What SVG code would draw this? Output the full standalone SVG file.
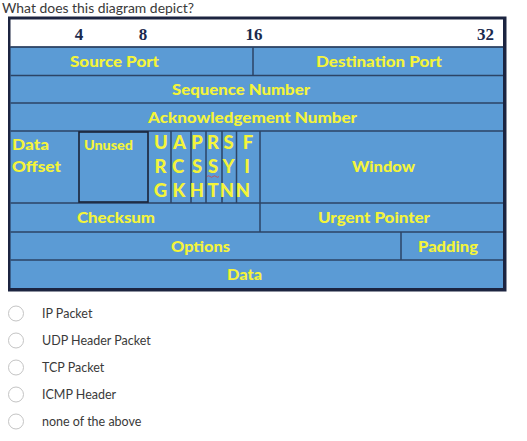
<svg xmlns="http://www.w3.org/2000/svg" width="527" height="441" viewBox="0 0 527 441">
<style>
.q{font-family:Lato,"Open Sans","Liberation Sans",sans-serif;font-size:12.5px;fill:#3a3a3a}
.num{font-family:"Liberation Serif","Times New Roman",serif;font-weight:bold;font-size:17px;fill:#1b2a4e;text-anchor:middle}
.lbl{font-family:Lato,"Open Sans","Liberation Sans",sans-serif;font-weight:900;font-size:15.5px;fill:#f4f43a;text-anchor:middle}
.lft{font-family:Lato,"Open Sans","Liberation Sans",sans-serif;font-weight:900;font-size:15px;fill:#f4f43a}
.flag{font-family:Lato,"Open Sans","Liberation Sans",sans-serif;font-weight:900;font-size:18.5px;fill:#f4f43a;text-anchor:middle}
.ln{stroke:#2c4466;stroke-width:1.5;fill:none}
.cell{fill:#5b9bd5}
.radio{fill:#fff;stroke:#c4c4c4;stroke-width:1}
</style>
<rect width="527" height="441" fill="#fff"/>
<text class="q" x="2" y="12.5" textLength="192" lengthAdjust="spacingAndGlyphs">What does this diagram depict?</text>

<g id="table">
  <rect x="8" y="16.5" width="498.5" height="275" fill="#1c2440"/>
  <rect x="10.5" y="19.5" width="492.5" height="27" fill="#fff"/>
  <rect class="cell" x="10.5" y="47.5" width="492.5" height="240.5"/>
</g>

<g id="header">
  <text class="num" x="79" y="39.5">4</text>
  <text class="num" x="143" y="39.5">8</text>
  <text class="num" x="254" y="39.5">16</text>
  <text class="num" x="485.5" y="39.5">32</text>
</g>

<g id="grid">
  <path class="ln" d="M10.5 47 H503 M10.5 75.5 H503 M10.5 103 H503 M10.5 131 H503 M10.5 203 H503 M10.5 232 H503 M10.5 260 H503"/>
  <path class="ln" d="M253 47 V75.5 M260 131 V232 M401 232 V260"/>
  <path class="ln" d="M171 131 V203 M191 131 V203 M206 131 V203 M222 131 V203 M236.5 131 V203"/>
</g>

<g id="source-port"><text class="lbl" x="114.5" y="67" textLength="89" lengthAdjust="spacingAndGlyphs">Source Port</text></g>
<g id="destination-port"><text class="lbl" x="379" y="67" textLength="126" lengthAdjust="spacingAndGlyphs">Destination Port</text></g>
<g id="sequence-number"><text class="lbl" x="241" y="95" textLength="138" lengthAdjust="spacingAndGlyphs">Sequence Number</text></g>
<g id="ack-number"><text class="lbl" x="252.5" y="123" textLength="209" lengthAdjust="spacingAndGlyphs">Acknowledgement Number</text></g>
<g id="data-offset">
  <text class="lft" x="12" y="150" textLength="37" lengthAdjust="spacingAndGlyphs">Data</text>
  <text class="lft" x="12" y="172" textLength="49" lengthAdjust="spacingAndGlyphs">Offset</text>
</g>
<g id="unused">
  <rect x="79" y="132" width="69" height="70" fill="#5b9bd5" stroke="#1a2236" stroke-width="1.6"/>
  <text class="lft" x="84" y="149.5" style="font-size:12.5px" textLength="49" lengthAdjust="spacingAndGlyphs">Unused</text>
</g>
<g id="flags">
  <text class="flag" x="161" y="149">U</text>
  <text class="flag" x="179.5" y="149">A</text>
  <text class="flag" x="197" y="149">P</text>
  <text class="flag" x="213" y="149">R</text>
  <text class="flag" x="228.5" y="149">S</text>
  <text class="flag" x="248" y="149">F</text>
  <text class="flag" x="160.5" y="173">R</text>
  <text class="flag" x="178" y="173">C</text>
  <text class="flag" x="197" y="173">S</text>
  <text class="flag" x="213" y="173">S</text>
  <text class="flag" x="228.5" y="173">Y</text>
  <text class="flag" x="247" y="173">I</text>
  <text class="flag" x="160.5" y="197">G</text>
  <text class="flag" x="179" y="197">K</text>
  <text class="flag" x="197" y="197">H</text>
  <text class="flag" x="213" y="197">T</text>
  <text class="flag" x="227" y="197">N</text>
  <text class="flag" x="243" y="197">N</text>
  <path d="M207 176.5 q1.5 -1.5 3 0 t3 0 t3 0 t3 0" stroke="#d84040" stroke-width="0.8" fill="none"/>
</g>
<g id="window"><text class="lbl" x="383.5" y="172" textLength="63" lengthAdjust="spacingAndGlyphs">Window</text></g>
<g id="checksum"><text class="lbl" x="116" y="223" textLength="78" lengthAdjust="spacingAndGlyphs">Checksum</text></g>
<g id="urgent-pointer"><text class="lbl" x="374" y="223" textLength="112" lengthAdjust="spacingAndGlyphs">Urgent Pointer</text></g>
<g id="options"><text class="lbl" x="200.5" y="252" textLength="59" lengthAdjust="spacingAndGlyphs">Options</text></g>
<g id="padding"><text class="lbl" x="448" y="252" textLength="60" lengthAdjust="spacingAndGlyphs">Padding</text></g>
<g id="data"><text class="lbl" x="244.5" y="280" textLength="35" lengthAdjust="spacingAndGlyphs">Data</text></g>

<g id="answers">
  <circle class="radio" cx="16" cy="313.5" r="7.5"/>
  <text class="q" x="42" y="317.5">IP Packet</text>
  <circle class="radio" cx="16" cy="340.5" r="7.5"/>
  <text class="q" x="42" y="344.5">UDP Header Packet</text>
  <circle class="radio" cx="16" cy="367.5" r="7.5"/>
  <text class="q" x="42" y="371.5">TCP Packet</text>
  <circle class="radio" cx="16" cy="394.5" r="7.5"/>
  <text class="q" x="42" y="398.5">ICMP Header</text>
  <circle class="radio" cx="16" cy="421.5" r="7.5"/>
  <text class="q" x="42" y="425.5">none of the above</text>
</g>
</svg>
